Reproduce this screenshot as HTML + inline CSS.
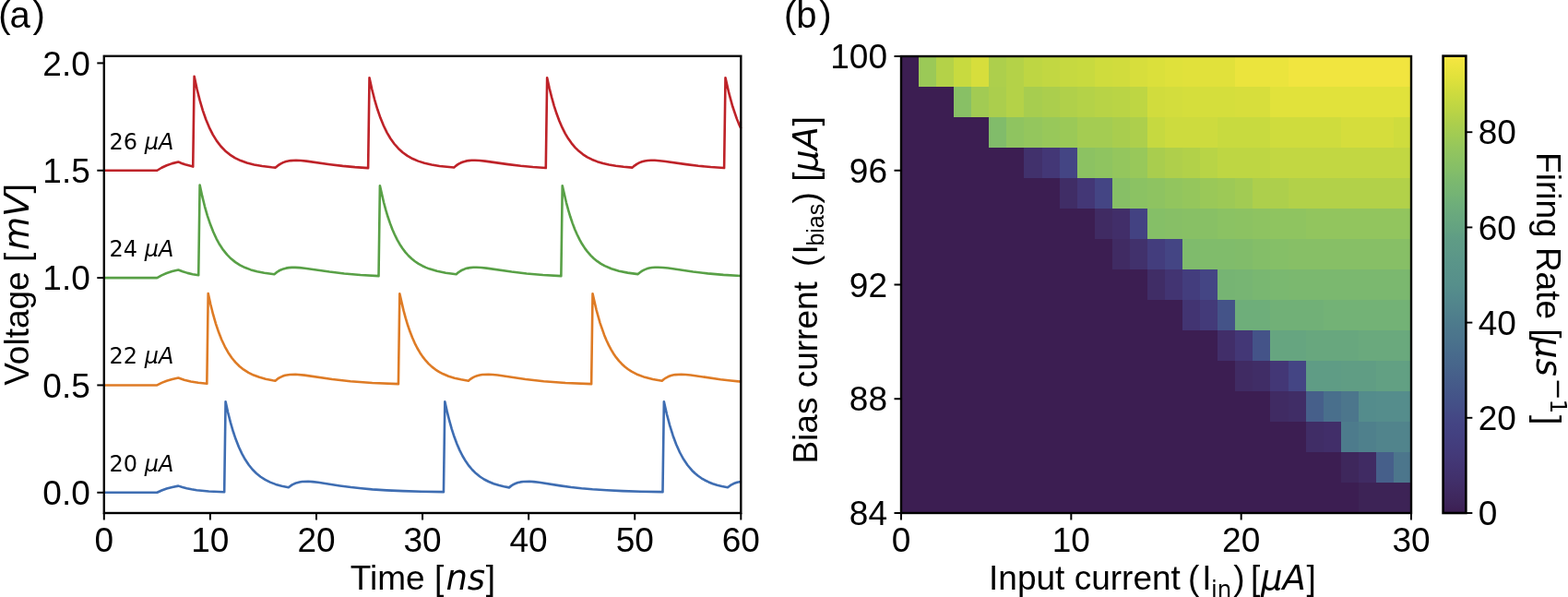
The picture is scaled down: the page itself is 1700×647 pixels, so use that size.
<!DOCTYPE html><html><head><meta charset="utf-8"><style>html,body{margin:0;padding:0;background:#fff;}svg{display:block;}text{font-family:'Liberation Sans', Arial, Helvetica, sans-serif;} .dj{font-family:'DejaVu Sans',sans-serif;} .djo{font-family:'DejaVu Sans',sans-serif;font-style:oblique;} .lib{font-family:'Liberation Sans',Arial,sans-serif;} text{white-space:pre;}</style></head><body>
<svg width="1700" height="647" viewBox="0 0 1700 647">
<defs><linearGradient id="cbg" x1="0" y1="0" x2="0" y2="1"><stop offset="0.000" stop-color="#f7e642"/><stop offset="0.025" stop-color="#ebe43d"/><stop offset="0.050" stop-color="#dfe13b"/><stop offset="0.075" stop-color="#d1dc3d"/><stop offset="0.100" stop-color="#c4d841"/><stop offset="0.125" stop-color="#b8d346"/><stop offset="0.150" stop-color="#abce4d"/><stop offset="0.175" stop-color="#a0cb54"/><stop offset="0.200" stop-color="#95c65c"/><stop offset="0.225" stop-color="#8cc262"/><stop offset="0.250" stop-color="#84be68"/><stop offset="0.275" stop-color="#7bb86f"/><stop offset="0.300" stop-color="#75b474"/><stop offset="0.325" stop-color="#6eae7a"/><stop offset="0.350" stop-color="#69a87e"/><stop offset="0.375" stop-color="#64a381"/><stop offset="0.400" stop-color="#5f9c85"/><stop offset="0.425" stop-color="#5d9987"/><stop offset="0.450" stop-color="#5a9589"/><stop offset="0.475" stop-color="#58928a"/><stop offset="0.500" stop-color="#568f8b"/><stop offset="0.525" stop-color="#53898c"/><stop offset="0.550" stop-color="#51838c"/><stop offset="0.575" stop-color="#4e7d8c"/><stop offset="0.600" stop-color="#4c778c"/><stop offset="0.625" stop-color="#4a728c"/><stop offset="0.650" stop-color="#486b8c"/><stop offset="0.675" stop-color="#47668b"/><stop offset="0.700" stop-color="#465f8a"/><stop offset="0.725" stop-color="#455989"/><stop offset="0.750" stop-color="#445388"/><stop offset="0.775" stop-color="#444c86"/><stop offset="0.800" stop-color="#444584"/><stop offset="0.825" stop-color="#434181"/><stop offset="0.850" stop-color="#433d7d"/><stop offset="0.875" stop-color="#433978"/><stop offset="0.900" stop-color="#423472"/><stop offset="0.925" stop-color="#41306b"/><stop offset="0.950" stop-color="#402b63"/><stop offset="0.975" stop-color="#3e265b"/><stop offset="1.000" stop-color="#3c1e52"/></linearGradient></defs>
<rect width="1700" height="647" fill="#fff"/>
<path d="M112.80,533.80 L170.34,533.80 L175.29,531.49 L180.70,529.55 L186.68,527.94 L193.36,526.63 L197.73,528.05 L202.45,529.27 L207.63,530.32 L213.27,531.18 L226.39,532.45 L243.19,533.22 L244.57,435.29 L247.10,446.74 L249.86,457.66 L252.74,467.52 L255.73,476.35 L258.96,484.49 L262.29,491.63 L265.86,498.06 L269.66,503.75 L273.69,508.71 L277.94,512.99 L282.55,516.72 L287.50,519.89 L292.91,522.60 L298.89,524.88 L305.45,526.76 L312.81,528.30 L314.89,526.65 L317.19,525.19 L319.49,524.07 L322.02,523.14 L324.67,522.48 L327.55,522.03 L334.11,521.81 L338.94,522.11 L344.81,522.79 L368.40,526.42 L380.48,528.05 L391.76,529.30 L403.50,530.34 L419.15,531.36 L436.64,532.14 L456.90,532.73 L480.95,533.15 L482.33,435.20 L484.75,446.13 L487.28,456.23 L489.81,465.11 L492.57,473.58 L495.45,481.24 L498.44,488.12 L501.55,494.24 L504.89,499.84 L508.46,504.89 L512.14,509.24 L516.05,513.08 L520.31,516.50 L524.91,519.48 L529.86,522.03 L535.27,524.22 L541.26,526.08 L546.32,527.31 L551.96,528.38 L554.14,526.64 L556.45,525.18 L558.86,524.01 L561.51,523.07 L564.27,522.40 L567.26,521.98 L574.05,521.82 L578.77,522.16 L584.41,522.82 L607.31,526.35 L619.17,527.97 L630.44,529.23 L642.30,530.29 L657.72,531.31 L674.98,532.10 L694.89,532.69 L718.48,533.12 L719.86,435.18 L722.97,448.99 L726.19,461.19 L729.65,472.23 L733.21,481.79 L737.01,490.25 L741.15,497.81 L745.53,504.27 L750.36,509.96 L753.58,513.06 L756.92,515.80 L760.49,518.28 L764.29,520.49 L768.31,522.44 L772.69,524.17 L777.41,525.69 L782.58,527.02 L788.91,528.28 L792.02,525.92 L795.47,524.07 L799.16,522.80 L803.30,522.02" fill="none" stroke="#3e6db2" stroke-width="2.6" stroke-linejoin="round" stroke-linecap="butt"/>
<path d="M112.80,417.45 L170.34,417.45 L175.29,414.91 L180.70,412.78 L186.68,411.01 L193.36,409.57 L199.69,411.72 L206.82,413.46 L214.88,414.79 L224.32,415.80 L225.70,317.94 L228.34,330.00 L231.11,340.97 L233.98,350.87 L237.09,360.07 L240.31,368.19 L243.76,375.56 L247.33,381.93 L251.25,387.74 L255.27,392.65 L259.65,396.98 L264.36,400.71 L269.43,403.88 L274.95,406.56 L281.17,408.84 L287.96,410.70 L295.67,412.21 L298.43,412.65 L300.85,410.69 L303.38,409.10 L306.14,407.81 L309.13,406.83 L314.31,405.94 L320.30,405.77 L330.08,406.60 L360.11,411.02 L379.91,413.26 L403.62,414.99 L431.93,416.13 L433.31,318.21 L437.57,336.66 L439.75,344.70 L442.05,352.26 L444.47,359.31 L447.00,365.82 L449.65,371.81 L452.41,377.27 L455.29,382.20 L458.28,386.64 L461.50,390.74 L464.84,394.36 L468.41,397.62 L472.21,400.53 L476.23,403.08 L480.49,405.30 L486.25,407.68 L492.69,409.68 L499.83,411.33 L507.88,412.66 L510.07,410.86 L512.37,409.35 L514.79,408.12 L517.32,407.16 L520.08,406.44 L522.96,405.97 L529.63,405.71 L534.12,405.96 L539.53,406.53 L569.68,410.98 L589.48,413.23 L613.07,414.96 L641.15,416.11 L642.53,318.18 L646.44,335.29 L650.58,350.06 L655.07,362.94 L657.49,368.77 L660.02,374.16 L662.55,378.91 L665.32,383.45 L668.08,387.41 L671.07,391.13 L674.18,394.46 L677.51,397.51 L681.08,400.27 L684.76,402.67 L691.44,406.07 L699.03,408.85 L707.67,411.04 L717.68,412.74 L719.75,411.01 L721.94,409.54 L724.24,408.33 L726.77,407.32 L729.42,406.58 L732.18,406.08 L738.62,405.72 L743.23,405.93 L748.75,406.48 L781.20,411.22 L792.14,412.52 L803.30,413.60" fill="none" stroke="#de7b25" stroke-width="2.6" stroke-linejoin="round" stroke-linecap="butt"/>
<path d="M112.80,301.10 L170.34,301.10 L175.29,298.33 L180.70,296.00 L186.68,294.07 L193.36,292.50 L198.08,294.32 L203.26,295.88 L208.89,297.18 L215.22,298.25 L216.61,200.48 L219.25,212.67 L222.01,223.77 L224.89,233.79 L228.00,243.09 L231.22,251.31 L234.56,258.53 L238.13,265.02 L242.04,270.93 L246.07,275.92 L250.44,280.32 L255.16,284.12 L260.22,287.34 L265.75,290.07 L271.96,292.39 L278.75,294.27 L286.46,295.81 L297.39,297.28 L299.58,295.41 L302.00,293.76 L304.53,292.43 L307.18,291.41 L310.05,290.64 L313.05,290.15 L316.38,289.89 L320.07,289.87 L324.78,290.14 L330.42,290.73 L357.24,294.58 L373.23,296.47 L390.84,297.98 L410.52,299.10 L411.90,201.19 L416.04,219.26 L418.23,227.38 L420.53,235.01 L422.95,242.13 L425.37,248.44 L427.90,254.27 L430.66,259.85 L433.42,264.71 L436.41,269.28 L439.52,273.37 L442.74,276.99 L446.20,280.29 L449.88,283.26 L453.79,285.88 L458.05,288.23 L461.62,289.87 L465.42,291.35 L473.70,293.80 L483.25,295.71 L494.65,297.19 L496.83,295.31 L499.13,293.73 L501.55,292.43 L504.20,291.37 L506.96,290.60 L509.95,290.08 L513.17,289.80 L516.74,289.74 L521.58,289.99 L527.45,290.60 L554.72,294.54 L570.95,296.46 L588.67,297.97 L608.35,299.09 L609.73,201.19 L613.87,219.26 L616.06,227.38 L618.36,235.01 L620.78,242.12 L623.19,248.43 L625.73,254.27 L628.37,259.63 L631.14,264.52 L634.13,269.11 L637.23,273.22 L640.46,276.87 L643.91,280.19 L647.59,283.17 L651.51,285.80 L655.65,288.11 L662.90,291.22 L671.07,293.68 L680.51,295.61 L691.67,297.10 L693.86,295.23 L696.16,293.65 L698.57,292.36 L701.11,291.35 L703.87,290.57 L706.86,290.04 L710.08,289.75 L713.65,289.70 L718.60,289.95 L724.47,290.57 L751.40,294.47 L767.28,296.37 L784.31,297.87 L803.30,298.99" fill="none" stroke="#58a046" stroke-width="2.6" stroke-linejoin="round" stroke-linecap="butt"/>
<path d="M112.80,184.75 L170.34,184.75 L175.29,181.75 L180.70,179.23 L186.68,177.13 L193.36,175.43 L196.93,176.97 L200.72,178.33 L209.24,180.57 L210.62,82.89 L213.50,96.24 L216.61,108.63 L219.83,119.57 L223.28,129.47 L226.85,138.05 L230.76,145.85 L234.90,152.59 L239.39,158.49 L244.11,163.43 L249.17,167.60 L254.70,171.11 L260.91,174.10 L267.70,176.51 L275.41,178.46 L284.27,180.02 L294.52,181.23 L298.77,181.60 L301.31,179.40 L304.07,177.56 L306.95,176.13 L310.05,175.06 L315.12,174.09 L320.99,173.82 L326.05,174.04 L332.26,174.66 L357.70,178.23 L371.51,179.89 L384.86,181.14 L399.13,182.14 L400.51,84.25 L403.27,96.75 L406.15,108.05 L409.25,118.54 L412.48,127.83 L415.93,136.25 L419.50,143.56 L423.41,150.22 L427.55,156.00 L431.93,160.96 L436.64,165.25 L441.71,168.89 L447.35,172.03 L453.45,174.63 L460.24,176.78 L467.83,178.53 L476.58,179.97 L492.23,181.56 L494.42,179.63 L496.83,177.92 L499.36,176.53 L502.01,175.45 L504.89,174.64 L508.00,174.09 L511.33,173.79 L515.02,173.74 L519.96,174.00 L525.95,174.61 L550.92,178.14 L564.50,179.79 L577.74,181.06 L591.78,182.06 L593.16,84.18 L595.57,95.21 L598.11,105.42 L600.75,114.78 L603.52,123.32 L606.39,131.03 L609.50,138.21 L612.72,144.57 L616.17,150.35 L619.74,155.37 L623.54,159.84 L627.68,163.85 L632.06,167.31 L636.77,170.31 L641.95,172.92 L647.59,175.14 L653.69,176.97 L660.25,178.47 L667.62,179.72 L676.02,180.76 L685.57,181.61 L687.87,179.57 L690.40,177.81 L693.05,176.40 L695.93,175.29 L698.92,174.51 L702.26,174.00 L705.82,173.77 L709.85,173.81 L719.98,174.71 L743.92,178.10 L757.04,179.71 L770.62,181.02 L785.12,182.07 L786.50,84.18 L790.30,100.94 L794.32,115.54 L798.70,128.38 L801.00,134.10 L803.30,139.19" fill="none" stroke="#be2228" stroke-width="2.6" stroke-linejoin="round" stroke-linecap="butt"/>
<text class="dj" x="118.6" y="510.5" font-size="24">20 <tspan font-style="italic">μA</tspan></text>
<text class="dj" x="118.6" y="394.2" font-size="24">22 <tspan font-style="italic">μA</tspan></text>
<text class="dj" x="118.6" y="277.8" font-size="24">24 <tspan font-style="italic">μA</tspan></text>
<text class="dj" x="118.6" y="161.5" font-size="24">26 <tspan font-style="italic">μA</tspan></text>
<rect x="112.8" y="60.8" width="690.5" height="495.2" fill="none" stroke="#000" stroke-width="2.4"/>
<line x1="112.80" y1="556.0" x2="112.80" y2="563.5" stroke="#000" stroke-width="2"/>
<text x="112.80" y="597.5" font-size="37" text-anchor="middle">0</text>
<line x1="227.88" y1="556.0" x2="227.88" y2="563.5" stroke="#000" stroke-width="2"/>
<text x="227.88" y="597.5" font-size="37" text-anchor="middle">10</text>
<line x1="342.97" y1="556.0" x2="342.97" y2="563.5" stroke="#000" stroke-width="2"/>
<text x="342.97" y="597.5" font-size="37" text-anchor="middle">20</text>
<line x1="458.05" y1="556.0" x2="458.05" y2="563.5" stroke="#000" stroke-width="2"/>
<text x="458.05" y="597.5" font-size="37" text-anchor="middle">30</text>
<line x1="573.13" y1="556.0" x2="573.13" y2="563.5" stroke="#000" stroke-width="2"/>
<text x="573.13" y="597.5" font-size="37" text-anchor="middle">40</text>
<line x1="688.22" y1="556.0" x2="688.22" y2="563.5" stroke="#000" stroke-width="2"/>
<text x="688.22" y="597.5" font-size="37" text-anchor="middle">50</text>
<line x1="803.30" y1="556.0" x2="803.30" y2="563.5" stroke="#000" stroke-width="2"/>
<text x="803.30" y="597.5" font-size="37" text-anchor="middle">60</text>
<line x1="105.3" y1="533.80" x2="112.8" y2="533.80" stroke="#000" stroke-width="2"/>
<text x="97.8" y="547.00" font-size="37" text-anchor="end">0.0</text>
<line x1="105.3" y1="417.45" x2="112.8" y2="417.45" stroke="#000" stroke-width="2"/>
<text x="97.8" y="430.65" font-size="37" text-anchor="end">0.5</text>
<line x1="105.3" y1="301.10" x2="112.8" y2="301.10" stroke="#000" stroke-width="2"/>
<text x="97.8" y="314.30" font-size="37" text-anchor="end">1.0</text>
<line x1="105.3" y1="184.75" x2="112.8" y2="184.75" stroke="#000" stroke-width="2"/>
<text x="97.8" y="197.95" font-size="37" text-anchor="end">1.5</text>
<line x1="105.3" y1="68.40" x2="112.8" y2="68.40" stroke="#000" stroke-width="2"/>
<text x="97.8" y="81.60" font-size="37" text-anchor="end">2.0</text>
<text><tspan class="lib" font-size="37" x="379.80" y="638.70">Time [</tspan><tspan class="djo" font-size="37" x="483.40" y="638.70">ns</tspan><tspan class="lib" font-size="37" x="526.80" y="638.70">]</tspan></text>
<text transform="translate(30.6,0) rotate(-90)"><tspan class="lib" font-size="37" x="-417.80" y="0.00">Voltage [</tspan><tspan class="djo" font-size="37" x="-271.00" y="0.00">mV</tspan><tspan class="lib" font-size="37" x="-209.60" y="0.00">]</tspan></text>
<text><tspan class="lib" font-size="40" x="-1.65" y="29.90">(</tspan><tspan class="lib" font-size="40" x="10.40" y="29.90">a</tspan><tspan class="lib" font-size="40" x="35.50" y="29.90">)</tspan></text>
<g shape-rendering="crispEdges">
<rect x="977.0" y="61.0" width="553.0" height="495.0" fill="#3c1e52"/>
<rect x="996.07" y="61.00" width="19.07" height="33.00" fill="#9bc957"/>
<rect x="1015.14" y="61.00" width="19.07" height="33.00" fill="#b4d248"/>
<rect x="1034.21" y="61.00" width="19.07" height="33.00" fill="#c8da3f"/>
<rect x="1053.28" y="61.00" width="19.07" height="33.00" fill="#d7de3c"/>
<rect x="1072.34" y="61.00" width="19.07" height="33.00" fill="#adcf4c"/>
<rect x="1091.41" y="61.00" width="19.07" height="33.00" fill="#b4d248"/>
<rect x="1110.48" y="61.00" width="19.07" height="33.00" fill="#bed643"/>
<rect x="1129.55" y="61.00" width="19.07" height="33.00" fill="#c2d742"/>
<rect x="1148.62" y="61.00" width="19.07" height="33.00" fill="#c6d940"/>
<rect x="1167.69" y="61.00" width="19.07" height="33.00" fill="#c8da3f"/>
<rect x="1186.76" y="61.00" width="19.07" height="33.00" fill="#cfdc3d"/>
<rect x="1205.83" y="61.00" width="19.07" height="33.00" fill="#d1dc3d"/>
<rect x="1224.90" y="61.00" width="19.07" height="33.00" fill="#d7de3c"/>
<rect x="1243.97" y="61.00" width="19.07" height="33.00" fill="#dbe03b"/>
<rect x="1263.03" y="61.00" width="19.07" height="33.00" fill="#dfe13b"/>
<rect x="1282.10" y="61.00" width="19.07" height="33.00" fill="#e1e13b"/>
<rect x="1301.17" y="61.00" width="19.07" height="33.00" fill="#e1e13b"/>
<rect x="1320.24" y="61.00" width="19.07" height="33.00" fill="#e1e13b"/>
<rect x="1339.31" y="61.00" width="19.07" height="33.00" fill="#ebe43d"/>
<rect x="1358.38" y="61.00" width="19.07" height="33.00" fill="#ebe43d"/>
<rect x="1377.45" y="61.00" width="19.07" height="33.00" fill="#ebe43d"/>
<rect x="1396.52" y="61.00" width="19.07" height="33.00" fill="#f1e53f"/>
<rect x="1415.59" y="61.00" width="19.07" height="33.00" fill="#f1e53f"/>
<rect x="1434.66" y="61.00" width="19.07" height="33.00" fill="#f1e53f"/>
<rect x="1453.72" y="61.00" width="19.07" height="33.00" fill="#f1e53f"/>
<rect x="1472.79" y="61.00" width="19.07" height="33.00" fill="#f1e53f"/>
<rect x="1491.86" y="61.00" width="19.07" height="33.00" fill="#f1e53f"/>
<rect x="1510.93" y="61.00" width="19.07" height="33.00" fill="#f1e53f"/>
<rect x="1034.21" y="94.00" width="19.07" height="33.00" fill="#88c065"/>
<rect x="1053.28" y="94.00" width="19.07" height="33.00" fill="#a2cb53"/>
<rect x="1072.34" y="94.00" width="19.07" height="33.00" fill="#abce4d"/>
<rect x="1091.41" y="94.00" width="19.07" height="33.00" fill="#b4d248"/>
<rect x="1110.48" y="94.00" width="19.07" height="33.00" fill="#a7cd4f"/>
<rect x="1129.55" y="94.00" width="19.07" height="33.00" fill="#abce4d"/>
<rect x="1148.62" y="94.00" width="19.07" height="33.00" fill="#b0d04a"/>
<rect x="1167.69" y="94.00" width="19.07" height="33.00" fill="#b4d248"/>
<rect x="1186.76" y="94.00" width="19.07" height="33.00" fill="#b8d346"/>
<rect x="1205.83" y="94.00" width="19.07" height="33.00" fill="#bad445"/>
<rect x="1224.90" y="94.00" width="19.07" height="33.00" fill="#bed643"/>
<rect x="1243.97" y="94.00" width="19.07" height="33.00" fill="#d1dc3d"/>
<rect x="1263.03" y="94.00" width="19.07" height="33.00" fill="#d3dd3d"/>
<rect x="1282.10" y="94.00" width="19.07" height="33.00" fill="#d5de3c"/>
<rect x="1301.17" y="94.00" width="19.07" height="33.00" fill="#d5de3c"/>
<rect x="1320.24" y="94.00" width="19.07" height="33.00" fill="#d5de3c"/>
<rect x="1339.31" y="94.00" width="19.07" height="33.00" fill="#d7de3c"/>
<rect x="1358.38" y="94.00" width="19.07" height="33.00" fill="#d7de3c"/>
<rect x="1377.45" y="94.00" width="19.07" height="33.00" fill="#e1e23b"/>
<rect x="1396.52" y="94.00" width="19.07" height="33.00" fill="#e1e23b"/>
<rect x="1415.59" y="94.00" width="19.07" height="33.00" fill="#e1e23b"/>
<rect x="1434.66" y="94.00" width="19.07" height="33.00" fill="#e1e23b"/>
<rect x="1453.72" y="94.00" width="19.07" height="33.00" fill="#e1e23b"/>
<rect x="1472.79" y="94.00" width="19.07" height="33.00" fill="#e1e23b"/>
<rect x="1491.86" y="94.00" width="19.07" height="33.00" fill="#e1e23b"/>
<rect x="1510.93" y="94.00" width="19.07" height="33.00" fill="#e1e23b"/>
<rect x="1072.34" y="127.00" width="19.07" height="33.00" fill="#81bc6a"/>
<rect x="1091.41" y="127.00" width="19.07" height="33.00" fill="#8fc460"/>
<rect x="1110.48" y="127.00" width="19.07" height="33.00" fill="#94c65d"/>
<rect x="1129.55" y="127.00" width="19.07" height="33.00" fill="#98c85a"/>
<rect x="1148.62" y="127.00" width="19.07" height="33.00" fill="#9bc957"/>
<rect x="1167.69" y="127.00" width="19.07" height="33.00" fill="#a4cc52"/>
<rect x="1186.76" y="127.00" width="19.07" height="33.00" fill="#a4cc52"/>
<rect x="1205.83" y="127.00" width="19.07" height="33.00" fill="#a9cd4e"/>
<rect x="1224.90" y="127.00" width="19.07" height="33.00" fill="#adcf4c"/>
<rect x="1243.97" y="127.00" width="19.07" height="33.00" fill="#c6d940"/>
<rect x="1263.03" y="127.00" width="19.07" height="33.00" fill="#cddb3e"/>
<rect x="1282.10" y="127.00" width="19.07" height="33.00" fill="#cddb3e"/>
<rect x="1301.17" y="127.00" width="19.07" height="33.00" fill="#cddb3e"/>
<rect x="1320.24" y="127.00" width="19.07" height="33.00" fill="#c8da3f"/>
<rect x="1339.31" y="127.00" width="19.07" height="33.00" fill="#c8da3f"/>
<rect x="1358.38" y="127.00" width="19.07" height="33.00" fill="#c8da3f"/>
<rect x="1377.45" y="127.00" width="19.07" height="33.00" fill="#cfdc3d"/>
<rect x="1396.52" y="127.00" width="19.07" height="33.00" fill="#cfdc3d"/>
<rect x="1415.59" y="127.00" width="19.07" height="33.00" fill="#cfdc3d"/>
<rect x="1434.66" y="127.00" width="19.07" height="33.00" fill="#cfdc3d"/>
<rect x="1453.72" y="127.00" width="19.07" height="33.00" fill="#d5dd3c"/>
<rect x="1472.79" y="127.00" width="19.07" height="33.00" fill="#d5dd3c"/>
<rect x="1491.86" y="127.00" width="19.07" height="33.00" fill="#d5dd3c"/>
<rect x="1510.93" y="127.00" width="19.07" height="33.00" fill="#cfdc3d"/>
<rect x="1110.48" y="160.00" width="19.07" height="33.00" fill="#41316c"/>
<rect x="1129.55" y="160.00" width="19.07" height="33.00" fill="#433776"/>
<rect x="1148.62" y="160.00" width="19.07" height="33.00" fill="#444584"/>
<rect x="1167.69" y="160.00" width="19.07" height="33.00" fill="#8cc262"/>
<rect x="1186.76" y="160.00" width="19.07" height="33.00" fill="#8fc460"/>
<rect x="1205.83" y="160.00" width="19.07" height="33.00" fill="#94c65d"/>
<rect x="1224.90" y="160.00" width="19.07" height="33.00" fill="#98c85a"/>
<rect x="1243.97" y="160.00" width="19.07" height="33.00" fill="#a9cd4e"/>
<rect x="1263.03" y="160.00" width="19.07" height="33.00" fill="#afcf4b"/>
<rect x="1282.10" y="160.00" width="19.07" height="33.00" fill="#b2d149"/>
<rect x="1301.17" y="160.00" width="19.07" height="33.00" fill="#b8d446"/>
<rect x="1320.24" y="160.00" width="19.07" height="33.00" fill="#bed643"/>
<rect x="1339.31" y="160.00" width="19.07" height="33.00" fill="#bed643"/>
<rect x="1358.38" y="160.00" width="19.07" height="33.00" fill="#bed643"/>
<rect x="1377.45" y="160.00" width="19.07" height="33.00" fill="#c2d742"/>
<rect x="1396.52" y="160.00" width="19.07" height="33.00" fill="#c2d742"/>
<rect x="1415.59" y="160.00" width="19.07" height="33.00" fill="#c2d742"/>
<rect x="1434.66" y="160.00" width="19.07" height="33.00" fill="#c2d742"/>
<rect x="1453.72" y="160.00" width="19.07" height="33.00" fill="#c2d742"/>
<rect x="1472.79" y="160.00" width="19.07" height="33.00" fill="#c2d742"/>
<rect x="1491.86" y="160.00" width="19.07" height="33.00" fill="#c2d742"/>
<rect x="1510.93" y="160.00" width="19.07" height="33.00" fill="#c2d742"/>
<rect x="1148.62" y="193.00" width="19.07" height="33.00" fill="#402d66"/>
<rect x="1167.69" y="193.00" width="19.07" height="33.00" fill="#433776"/>
<rect x="1186.76" y="193.00" width="19.07" height="33.00" fill="#444584"/>
<rect x="1205.83" y="193.00" width="19.07" height="33.00" fill="#87bf66"/>
<rect x="1224.90" y="193.00" width="19.07" height="33.00" fill="#8bc263"/>
<rect x="1243.97" y="193.00" width="19.07" height="33.00" fill="#8ec361"/>
<rect x="1263.03" y="193.00" width="19.07" height="33.00" fill="#92c55e"/>
<rect x="1282.10" y="193.00" width="19.07" height="33.00" fill="#95c65c"/>
<rect x="1301.17" y="193.00" width="19.07" height="33.00" fill="#9ac858"/>
<rect x="1320.24" y="193.00" width="19.07" height="33.00" fill="#9dc956"/>
<rect x="1339.31" y="193.00" width="19.07" height="33.00" fill="#a2cb53"/>
<rect x="1358.38" y="193.00" width="19.07" height="33.00" fill="#adcf4c"/>
<rect x="1377.45" y="193.00" width="19.07" height="33.00" fill="#adcf4c"/>
<rect x="1396.52" y="193.00" width="19.07" height="33.00" fill="#b2d149"/>
<rect x="1415.59" y="193.00" width="19.07" height="33.00" fill="#b2d149"/>
<rect x="1434.66" y="193.00" width="19.07" height="33.00" fill="#b2d149"/>
<rect x="1453.72" y="193.00" width="19.07" height="33.00" fill="#b2d149"/>
<rect x="1472.79" y="193.00" width="19.07" height="33.00" fill="#b2d149"/>
<rect x="1491.86" y="193.00" width="19.07" height="33.00" fill="#b2d149"/>
<rect x="1510.93" y="193.00" width="19.07" height="33.00" fill="#b2d149"/>
<rect x="1186.76" y="226.00" width="19.07" height="33.00" fill="#402b63"/>
<rect x="1205.83" y="226.00" width="19.07" height="33.00" fill="#412e69"/>
<rect x="1224.90" y="226.00" width="19.07" height="33.00" fill="#434282"/>
<rect x="1243.97" y="226.00" width="19.07" height="33.00" fill="#85bf67"/>
<rect x="1263.03" y="226.00" width="19.07" height="33.00" fill="#87bf66"/>
<rect x="1282.10" y="226.00" width="19.07" height="33.00" fill="#88c065"/>
<rect x="1301.17" y="226.00" width="19.07" height="33.00" fill="#88c065"/>
<rect x="1320.24" y="226.00" width="19.07" height="33.00" fill="#8bc263"/>
<rect x="1339.31" y="226.00" width="19.07" height="33.00" fill="#8cc262"/>
<rect x="1358.38" y="226.00" width="19.07" height="33.00" fill="#8ec361"/>
<rect x="1377.45" y="226.00" width="19.07" height="33.00" fill="#8fc460"/>
<rect x="1396.52" y="226.00" width="19.07" height="33.00" fill="#8fc460"/>
<rect x="1415.59" y="226.00" width="19.07" height="33.00" fill="#92c55e"/>
<rect x="1434.66" y="226.00" width="19.07" height="33.00" fill="#92c55e"/>
<rect x="1453.72" y="226.00" width="19.07" height="33.00" fill="#92c55e"/>
<rect x="1472.79" y="226.00" width="19.07" height="33.00" fill="#92c55e"/>
<rect x="1491.86" y="226.00" width="19.07" height="33.00" fill="#92c55e"/>
<rect x="1510.93" y="226.00" width="19.07" height="33.00" fill="#92c55e"/>
<rect x="1205.83" y="259.00" width="19.07" height="33.00" fill="#402b63"/>
<rect x="1224.90" y="259.00" width="19.07" height="33.00" fill="#41316c"/>
<rect x="1243.97" y="259.00" width="19.07" height="33.00" fill="#433d7d"/>
<rect x="1263.03" y="259.00" width="19.07" height="33.00" fill="#444584"/>
<rect x="1282.10" y="259.00" width="19.07" height="33.00" fill="#7fbb6c"/>
<rect x="1301.17" y="259.00" width="19.07" height="33.00" fill="#80bc6b"/>
<rect x="1320.24" y="259.00" width="19.07" height="33.00" fill="#80bc6b"/>
<rect x="1339.31" y="259.00" width="19.07" height="33.00" fill="#81bc6a"/>
<rect x="1358.38" y="259.00" width="19.07" height="33.00" fill="#84be68"/>
<rect x="1377.45" y="259.00" width="19.07" height="33.00" fill="#85bf67"/>
<rect x="1396.52" y="259.00" width="19.07" height="33.00" fill="#87bf66"/>
<rect x="1415.59" y="259.00" width="19.07" height="33.00" fill="#87bf66"/>
<rect x="1434.66" y="259.00" width="19.07" height="33.00" fill="#87bf66"/>
<rect x="1453.72" y="259.00" width="19.07" height="33.00" fill="#87bf66"/>
<rect x="1472.79" y="259.00" width="19.07" height="33.00" fill="#87bf66"/>
<rect x="1491.86" y="259.00" width="19.07" height="33.00" fill="#87bf66"/>
<rect x="1510.93" y="259.00" width="19.07" height="33.00" fill="#87bf66"/>
<rect x="1243.97" y="292.00" width="19.07" height="33.00" fill="#402d66"/>
<rect x="1263.03" y="292.00" width="19.07" height="33.00" fill="#423472"/>
<rect x="1282.10" y="292.00" width="19.07" height="33.00" fill="#433d7d"/>
<rect x="1301.17" y="292.00" width="19.07" height="33.00" fill="#444584"/>
<rect x="1320.24" y="292.00" width="19.07" height="33.00" fill="#76b473"/>
<rect x="1339.31" y="292.00" width="19.07" height="33.00" fill="#77b573"/>
<rect x="1358.38" y="292.00" width="19.07" height="33.00" fill="#79b771"/>
<rect x="1377.45" y="292.00" width="19.07" height="33.00" fill="#7ab870"/>
<rect x="1396.52" y="292.00" width="19.07" height="33.00" fill="#7bb86f"/>
<rect x="1415.59" y="292.00" width="19.07" height="33.00" fill="#7bb86f"/>
<rect x="1434.66" y="292.00" width="19.07" height="33.00" fill="#7bb86f"/>
<rect x="1453.72" y="292.00" width="19.07" height="33.00" fill="#7bb86f"/>
<rect x="1472.79" y="292.00" width="19.07" height="33.00" fill="#7bb86f"/>
<rect x="1491.86" y="292.00" width="19.07" height="33.00" fill="#7bb86f"/>
<rect x="1510.93" y="292.00" width="19.07" height="33.00" fill="#7bb86f"/>
<rect x="1282.10" y="325.00" width="19.07" height="33.00" fill="#423472"/>
<rect x="1301.17" y="325.00" width="19.07" height="33.00" fill="#433a79"/>
<rect x="1320.24" y="325.00" width="19.07" height="33.00" fill="#445388"/>
<rect x="1339.31" y="325.00" width="19.07" height="33.00" fill="#6eae7a"/>
<rect x="1358.38" y="325.00" width="19.07" height="33.00" fill="#6eae7a"/>
<rect x="1377.45" y="325.00" width="19.07" height="33.00" fill="#71b077"/>
<rect x="1396.52" y="325.00" width="19.07" height="33.00" fill="#71b077"/>
<rect x="1415.59" y="325.00" width="19.07" height="33.00" fill="#71b077"/>
<rect x="1434.66" y="325.00" width="19.07" height="33.00" fill="#73b276"/>
<rect x="1453.72" y="325.00" width="19.07" height="33.00" fill="#73b276"/>
<rect x="1472.79" y="325.00" width="19.07" height="33.00" fill="#73b276"/>
<rect x="1491.86" y="325.00" width="19.07" height="33.00" fill="#73b276"/>
<rect x="1510.93" y="325.00" width="19.07" height="33.00" fill="#73b276"/>
<rect x="1320.24" y="358.00" width="19.07" height="33.00" fill="#412e69"/>
<rect x="1339.31" y="358.00" width="19.07" height="33.00" fill="#433776"/>
<rect x="1358.38" y="358.00" width="19.07" height="33.00" fill="#445388"/>
<rect x="1377.45" y="358.00" width="19.07" height="33.00" fill="#66a580"/>
<rect x="1396.52" y="358.00" width="19.07" height="33.00" fill="#66a580"/>
<rect x="1415.59" y="358.00" width="19.07" height="33.00" fill="#68a77e"/>
<rect x="1434.66" y="358.00" width="19.07" height="33.00" fill="#68a77e"/>
<rect x="1453.72" y="358.00" width="19.07" height="33.00" fill="#68a77e"/>
<rect x="1472.79" y="358.00" width="19.07" height="33.00" fill="#6aa97d"/>
<rect x="1491.86" y="358.00" width="19.07" height="33.00" fill="#6aa97d"/>
<rect x="1510.93" y="358.00" width="19.07" height="33.00" fill="#6aa97d"/>
<rect x="1339.31" y="391.00" width="19.07" height="33.00" fill="#402b63"/>
<rect x="1358.38" y="391.00" width="19.07" height="33.00" fill="#402d66"/>
<rect x="1377.45" y="391.00" width="19.07" height="33.00" fill="#433776"/>
<rect x="1396.52" y="391.00" width="19.07" height="33.00" fill="#444584"/>
<rect x="1415.59" y="391.00" width="19.07" height="33.00" fill="#5f9c85"/>
<rect x="1434.66" y="391.00" width="19.07" height="33.00" fill="#5f9c85"/>
<rect x="1453.72" y="391.00" width="19.07" height="33.00" fill="#609d84"/>
<rect x="1472.79" y="391.00" width="19.07" height="33.00" fill="#609d84"/>
<rect x="1491.86" y="391.00" width="19.07" height="33.00" fill="#62a083"/>
<rect x="1510.93" y="391.00" width="19.07" height="33.00" fill="#62a083"/>
<rect x="1377.45" y="424.00" width="19.07" height="33.00" fill="#402b63"/>
<rect x="1396.52" y="424.00" width="19.07" height="33.00" fill="#402d66"/>
<rect x="1415.59" y="424.00" width="19.07" height="33.00" fill="#465f8a"/>
<rect x="1434.66" y="424.00" width="19.07" height="33.00" fill="#496f8c"/>
<rect x="1453.72" y="424.00" width="19.07" height="33.00" fill="#4c768c"/>
<rect x="1472.79" y="424.00" width="19.07" height="33.00" fill="#548c8c"/>
<rect x="1491.86" y="424.00" width="19.07" height="33.00" fill="#558d8c"/>
<rect x="1510.93" y="424.00" width="19.07" height="33.00" fill="#558d8c"/>
<rect x="1415.59" y="457.00" width="19.07" height="33.00" fill="#402d66"/>
<rect x="1434.66" y="457.00" width="19.07" height="33.00" fill="#412e69"/>
<rect x="1453.72" y="457.00" width="19.07" height="33.00" fill="#4d7b8c"/>
<rect x="1472.79" y="457.00" width="19.07" height="33.00" fill="#4f808c"/>
<rect x="1491.86" y="457.00" width="19.07" height="33.00" fill="#51848c"/>
<rect x="1510.93" y="457.00" width="19.07" height="33.00" fill="#51848c"/>
<rect x="1453.72" y="490.00" width="19.07" height="33.00" fill="#3e275c"/>
<rect x="1472.79" y="490.00" width="19.07" height="33.00" fill="#402b63"/>
<rect x="1491.86" y="490.00" width="19.07" height="33.00" fill="#465f8a"/>
<rect x="1510.93" y="490.00" width="19.07" height="33.00" fill="#4c768c"/>
<rect x="1472.79" y="523.00" width="19.07" height="33.00" fill="#3d2356"/>
<rect x="1491.86" y="523.00" width="19.07" height="33.00" fill="#3d2356"/>
<rect x="1510.93" y="523.00" width="19.07" height="33.00" fill="#3d2356"/>
</g>
<rect x="977.0" y="61.0" width="553.0" height="495.0" fill="none" stroke="#000" stroke-width="2.4"/>
<line x1="977.00" y1="556.0" x2="977.00" y2="563.5" stroke="#000" stroke-width="2"/>
<text x="977.00" y="597.5" font-size="37" text-anchor="middle">0</text>
<line x1="1161.33" y1="556.0" x2="1161.33" y2="563.5" stroke="#000" stroke-width="2"/>
<text x="1161.33" y="597.5" font-size="37" text-anchor="middle">10</text>
<line x1="1345.67" y1="556.0" x2="1345.67" y2="563.5" stroke="#000" stroke-width="2"/>
<text x="1345.67" y="597.5" font-size="37" text-anchor="middle">20</text>
<line x1="1530.00" y1="556.0" x2="1530.00" y2="563.5" stroke="#000" stroke-width="2"/>
<text x="1530.00" y="597.5" font-size="37" text-anchor="middle">30</text>
<line x1="969.5" y1="556.00" x2="977.0" y2="556.00" stroke="#000" stroke-width="2"/>
<text x="962.0" y="569.20" font-size="37" text-anchor="end">84</text>
<line x1="969.5" y1="432.25" x2="977.0" y2="432.25" stroke="#000" stroke-width="2"/>
<text x="962.0" y="445.45" font-size="37" text-anchor="end">88</text>
<line x1="969.5" y1="308.50" x2="977.0" y2="308.50" stroke="#000" stroke-width="2"/>
<text x="962.0" y="321.70" font-size="37" text-anchor="end">92</text>
<line x1="969.5" y1="184.75" x2="977.0" y2="184.75" stroke="#000" stroke-width="2"/>
<text x="962.0" y="197.95" font-size="37" text-anchor="end">96</text>
<line x1="969.5" y1="61.00" x2="977.0" y2="61.00" stroke="#000" stroke-width="2"/>
<text x="962.0" y="74.20" font-size="37" text-anchor="end">100</text>
<text><tspan class="lib" font-size="37" x="1072.10" y="639.40">Input current</tspan><tspan class="lib" font-size="37" x="1288.10" y="639.40">(</tspan><tspan class="lib" font-size="37" x="1303.20" y="639.40">I</tspan><tspan class="dj" font-size="24.5" x="1313.00" y="646.70">in</tspan><tspan class="lib" font-size="37" x="1337.20" y="639.40">)</tspan><tspan class="lib" font-size="37" x="1356.00" y="639.40">[</tspan><tspan class="djo" font-size="37" x="1367.00" y="639.40">μA</tspan><tspan class="lib" font-size="37" x="1416.40" y="639.40">]</tspan></text>
<text transform="translate(886,0) rotate(-90)"><tspan class="lib" font-size="37" x="-502.60" y="0.00">Bias current</tspan><tspan class="lib" font-size="37" x="-289.00" y="0.00">(</tspan><tspan class="lib" font-size="37" x="-275.50" y="0.00">I</tspan><tspan class="lib" font-size="25" x="-266.60" y="7.40">bias</tspan><tspan class="lib" font-size="37" x="-220.40" y="0.00">)</tspan><tspan class="lib" font-size="37" x="-196.70" y="0.00">[</tspan><tspan class="djo" font-size="37" x="-186.00" y="0.00">μA</tspan><tspan class="lib" font-size="37" x="-136.60" y="0.00">]</tspan></text>
<text><tspan class="lib" font-size="40" x="849.95" y="29.90">(</tspan><tspan class="lib" font-size="40" x="863.20" y="29.90">b</tspan><tspan class="lib" font-size="40" x="888.20" y="29.90">)</tspan></text>
<rect x="1564.6" y="60.65" width="24.75" height="495.35" fill="url(#cbg)" stroke="#000" stroke-width="2.6"/>
<line x1="1589.35" y1="556.00" x2="1596.35" y2="556.00" stroke="#000" stroke-width="1.9"/>
<text x="1602.75" y="569.20" font-size="37">0</text>
<line x1="1589.35" y1="452.80" x2="1596.35" y2="452.80" stroke="#000" stroke-width="1.9"/>
<text x="1602.75" y="466.00" font-size="37">20</text>
<line x1="1589.35" y1="349.60" x2="1596.35" y2="349.60" stroke="#000" stroke-width="1.9"/>
<text x="1602.75" y="362.80" font-size="37">40</text>
<line x1="1589.35" y1="246.41" x2="1596.35" y2="246.41" stroke="#000" stroke-width="1.9"/>
<text x="1602.75" y="259.61" font-size="37">60</text>
<line x1="1589.35" y1="143.21" x2="1596.35" y2="143.21" stroke="#000" stroke-width="1.9"/>
<text x="1602.75" y="156.41" font-size="37">80</text>
<text transform="translate(1666.4,0) rotate(90)"><tspan class="lib" font-size="37" x="165.10" y="0.00">Firing Rate [</tspan><tspan class="djo" font-size="37" x="365.00" y="0.00">μs</tspan><tspan class="dj" font-size="29" x="409.40" y="-13.40">−</tspan><tspan class="dj" font-size="25" x="432.60" y="-14.50">1</tspan><tspan class="lib" font-size="37" x="450.00" y="0.00">]</tspan></text>
</svg></body></html>
